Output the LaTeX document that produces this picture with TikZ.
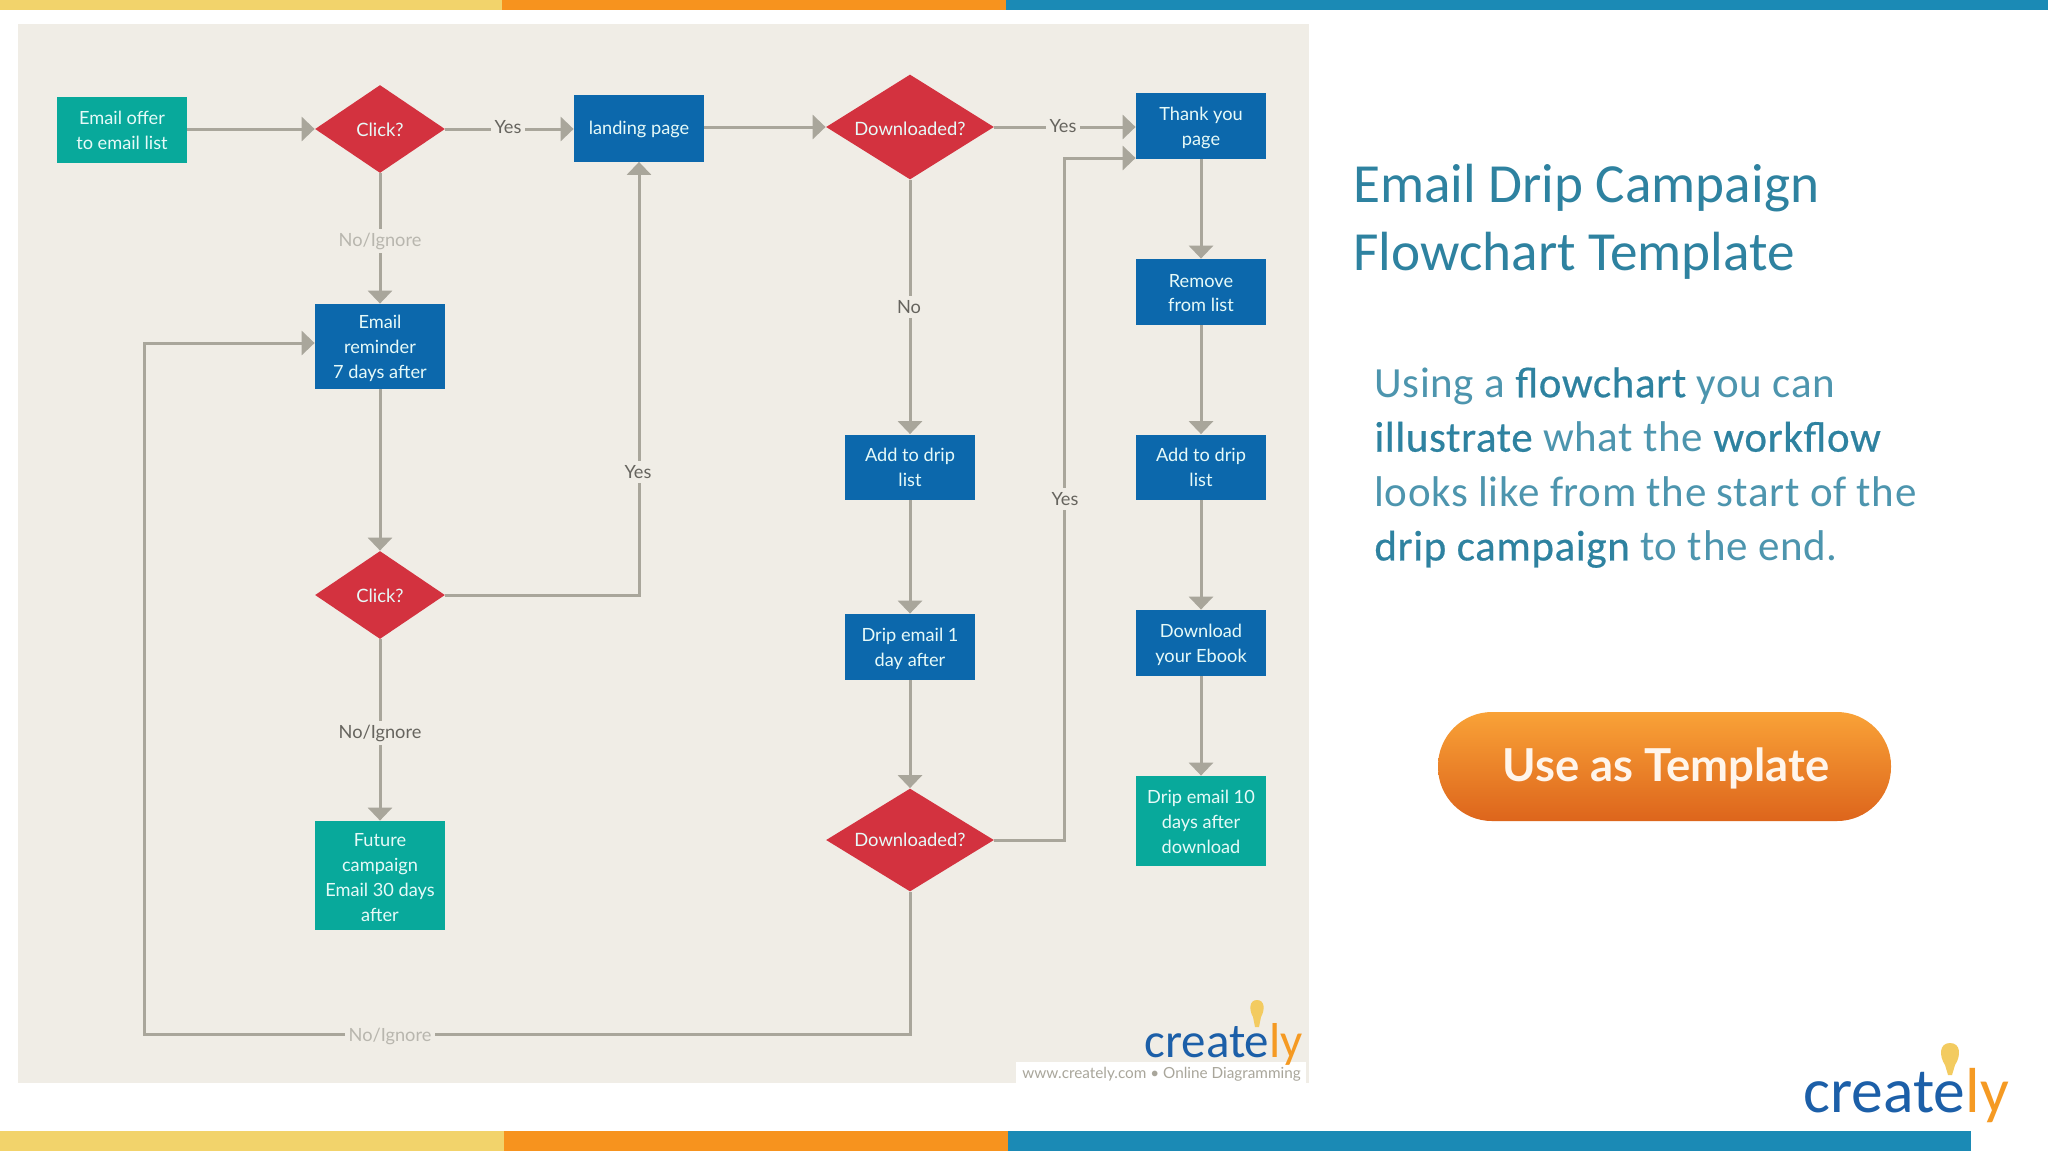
\documentclass[tikz,border=0pt]{standalone}
\usepackage{fontspec}
\usetikzlibrary{arrows.meta,shapes.geometric}
\setmainfont{Lato}
\newfontfamily\calfont{Carlito}
\newfontfamily\bodyfont[LetterSpace=1.5]{Carlito}
\newfontfamily\bodybold[LetterSpace=1.5,FakeBold=0.5]{Carlito}
\definecolor{panelbg}{HTML}{F0EDE6}
\definecolor{tealbox}{HTML}{08A99B}
\definecolor{bluebox}{HTML}{0C68AC}
\definecolor{redbox}{HTML}{D3323F}
\definecolor{lineg}{HTML}{A9A69B}
\definecolor{barY}{HTML}{F2D36B}
\definecolor{barO}{HTML}{F7931E}
\definecolor{barB}{HTML}{1B8AB5}
\definecolor{titlec}{HTML}{2E82A0}
\definecolor{logob}{HTML}{1C5FA8}
\definecolor{logoo}{HTML}{F59A23}
\definecolor{labeld}{HTML}{66645E}
\definecolor{labell}{HTML}{B8B6AE}
\definecolor{boxtext}{HTML}{E6FAF8}
\definecolor{btntop}{HTML}{F9A237}
\definecolor{btnmid}{HTML}{EE7F14}
\definecolor{btnbot}{HTML}{DD651C}
\newcommand{\nudge}{\rule{0pt}{8.6pt}}
\newcommand{\nudgeless}{\rule{0pt}{7.6pt}}
\tikzset{
  flowbox/.style={rectangle,text=boxtext,minimum width=65pt,inner sep=0pt,align=center,
    font=\fontsize{9.1}{12.4}\selectfont},
  tealnode/.style={flowbox,fill=tealbox},
  bluenode/.style={flowbox,fill=bluebox},
  decide/.style={diamond,fill=redbox,text=boxtext,inner sep=0pt,aspect=1.5,align=center,
    font=\fontsize{9.2}{12.4}\selectfont},
  link/.style={draw=lineg,line width=1.5pt},
  arr/.style={link,-{Triangle[length=6.5pt,width=12pt]}},
  flowlabel/.style={fill=panelbg,inner sep=2pt,font=\fontsize{9.1}{11}\selectfont},
  yeslabel/.style={flowlabel,text=labeld},
  ignorelabel/.style={flowlabel,text=labell},
  bulb/.style={fill=barY!90!orange},
}
\begin{document}
\begin{tikzpicture}[x=0.5pt,y=-0.5pt]
\useasboundingbox (0,0) rectangle (2048,1152);
\fill[white] (0,0) rectangle (2048,1152);
% bars
\fill[barY] (0,0) rectangle (502,10);
\fill[barO] (502,0) rectangle (1006,10);
\fill[barB] (1006,0) rectangle (2048,10);
\fill[barY] (0,1131) rectangle (504,1151);
\fill[barO] (504,1131) rectangle (1008,1151);
\fill[barB] (1008,1131) rectangle (1971,1151);
% panel
\fill[panelbg] (18,24) rectangle (1309,1083);
\fill[white] (1016,1062) rectangle (1306,1083);
% nodes
\node[tealnode,minimum height=33pt] (offer) at (122,130) {Email offer\\to email list};
\node[decide,minimum width=65pt,minimum height=44pt] (click) at (380,129) {\nudgeless Click?};
\node[bluenode,minimum height=33.5pt] (landing) at (639,128) {\nudge landing page};
\node[decide,minimum width=84pt,minimum height=52.5pt] (dl) at (910,127) {\nudge Downloaded?};
\node[bluenode,minimum height=33pt] (thanks) at (1201,126) {\nudge Thank you\\page};
\node[bluenode,minimum height=33pt] (remove) at (1201,292) {\nudgeless Remove\\from list};
\node[bluenode,minimum height=32.5pt] (addr) at (1201,467) {Add to drip\\list};
\node[bluenode,minimum height=33pt] (ebook) at (1201,643) {\nudge Download\\your Ebook};
\node[tealnode,minimum height=45pt] (drip) at (1201,821) {\nudgeless Drip email 10\\days after\\download};
\node[bluenode,minimum height=32.5pt] (addm) at (910,467) {Add to drip\\list};
\node[bluenode,minimum height=33pt] (dripm) at (910,647) {\nudge Drip email 1\\day after};
\node[decide,minimum width=84pt,minimum height=51.5pt] (dlb) at (910,840) {Downloaded?};
\node[bluenode,minimum height=42.5pt] (remind) at (380,346.5) {\nudge Email\\reminder\\7 days after};
\node[decide,minimum width=65pt,minimum height=44pt] (clickb) at (380,595) {\nudgeless Click?};
\node[tealnode,minimum height=54.5pt] (future) at (380,875.5) {\nudge Future\\campaign\\Email 30 days\\after};
\coordinate (upjoin) at (1064,840);
\coordinate (upend) at (1064,158);
\coordinate (leftdown) at (910,1034);
\coordinate (leftcorner) at (144,1034);
\coordinate (lefttop) at (144,343);
\coordinate (clickjoin) at (639,595);
% connectors
\draw[arr] (offer.east |- click.west) -- (click.west);
\draw[arr] (click.east) -- (landing.west |- click.east);
\draw[arr] (landing.east |- dl.west) -- (dl.west);
\draw[arr] (dl.east) -- (thanks.west |- dl.east);
\draw[arr] (click.south) -- (remind.north);
\draw[arr] (remind.south) -- (clickb.north);
\draw[arr] (clickb.south) -- (future.north);
\draw[arr] (clickb.east) -- (clickjoin) -- (landing.south);
\draw[arr] (dl.south) -- (addm.north);
\draw[arr] (addm.south) -- (dripm.north);
\draw[arr] (dripm.south) -- (dlb.north);
\draw[arr] (dlb.east) -- (upjoin) -- (upend) -- (thanks.west |- upend);
\draw[arr] (dlb.south) -- (leftdown) -- (leftcorner) -- (lefttop) -- (remind.west |- lefttop);
\draw[arr] (thanks.south) -- (remove.north);
\draw[arr] (remove.south) -- (addr.north);
\draw[arr] (addr.south) -- (ebook.north);
\draw[arr] (ebook.south) -- (drip.north);
% connector labels
\node[yeslabel] (yes1) at (508,127) {Yes};
\node[yeslabel] (yes2) at (1063,126) {Yes};
\node[yeslabel] (yes3) at (638,472) {Yes};
\node[yeslabel] (yes4) at (1065,499) {Yes};
\node[yeslabel] (no1) at (909,307) {No};
\node[ignorelabel] (ign1) at (380,241) {No/Ignore};
\node[yeslabel] (ign2) at (380,733) {No/Ignore};
\node[ignorelabel] (ign3) at (390,1036) {No/Ignore};
% small logo
\fill[bulb] (1257,1000) .. controls (1249,1000) and (1249,1010) .. (1253,1017) -- (1255,1027) -- (1259,1027) -- (1261,1017) .. controls (1265,1010) and (1265,1000) .. (1257,1000) -- cycle;
\node[anchor=base west,inner sep=0pt,font=\calfont\fontsize{24.5}{26}\selectfont] (logosmall) at (1144,1057) {\textcolor{logob}{create}\textcolor{logoo}{ly}};
\node[anchor=base west,inner sep=0pt,text=lineg,font=\fontsize{7.65}{8}\selectfont] (tagline) at (1022,1078) {www.creately.com • Online Diagramming};
% right logo
\fill[bulb] (1950,1043) .. controls (1939,1043) and (1939,1056) .. (1945,1065) -- (1948,1075) -- (1952,1075) -- (1955,1065) .. controls (1961,1056) and (1961,1043) .. (1950,1043) -- cycle;
\node[anchor=base west,inner sep=0pt,font=\calfont\fontsize{31.8}{33}\selectfont] (logobig) at (1803,1112) {\textcolor{logob}{create}\textcolor{logoo}{ly}};
% title and body
\node[anchor=north west,inner sep=0pt,align=left,text=titlec,font=\calfont\fontsize{27.6}{34}\selectfont] (title) at (1353,164) {Email Drip Campaign\\Flowchart Template};
\node[anchor=north west,inner sep=0pt,align=left,text=titlec,font=\bodyfont\fontsize{21.5}{27.2}\selectfont] (body) at (1374,367) {\textcolor{titlec!85}{Using a} {\bodybold flowchart} \textcolor{titlec!85}{you can}\\{\bodybold illustrate} \textcolor{titlec!85}{what the} {\bodybold workflow}\\\textcolor{titlec!85}{looks like from the start of the}\\{\bodybold drip campaign} \textcolor{titlec!85}{to the end.}};
% button
\shade[top color=btntop,middle color=btnmid,bottom color=btnbot,rounded corners=27pt] (1438,712) rectangle (1891,821);
\node[text=white!92!orange,font=\bfseries\fontsize{22.7}{26}\selectfont,inner sep=0pt] (usebtn) at (1666,768) {Use as Template};
\end{tikzpicture}
\end{document}
